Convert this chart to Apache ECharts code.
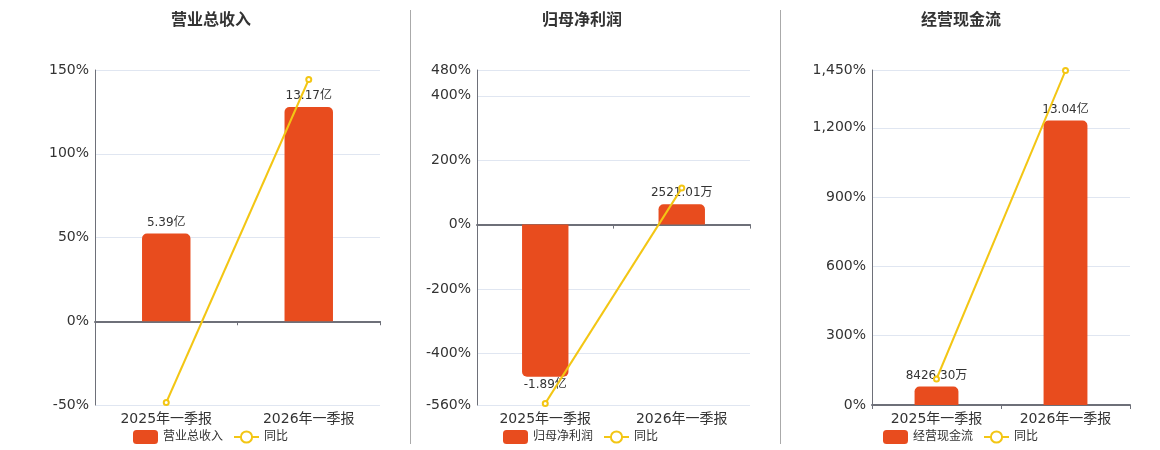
<!DOCTYPE html>
<html>
<head>
<meta charset="utf-8">
<script src="https://cdn.jsdelivr.net/npm/echarts@6/dist/echarts.min.js"></script>
<style>
html,body{margin:0;padding:0;background:#fff;}
#main{width:1160px;height:450px;}
</style>
</head>
<body>
<div id="main"></div>
<script>
// ---- data ----
const categories = ['2025年一季报', '2026年一季报'];
const titles = ['营业总收入', '归母净利润', '经营现金流'];
// bar values in 亿元
const revenue = [5.39, 13.17];
const netProfit = [-1.89, 0.252101];
const cashFlow = [0.842630, 13.04];
// YoY growth, %
const revenueYoY = [-48.5, 144.34];
const netProfitYoY = [-555, 113.3];
const cashFlowYoY = [112.5, 1447.6];
const yoyName = '同比';

const barSets = [revenue, netProfit, cashFlow];
const yoySets = [revenueYoY, netProfitYoY, cashFlowYoY];

// ---- layout / style ----
const FONT = '"DejaVu Sans", "Noto Sans CJK SC", sans-serif';
const grids = [
  {left: 95, right: 780, top: 70, bottom: 45},
  {left: 477, right: 410, top: 70, bottom: 45},
  {left: 872, right: 30, top: 70, bottom: 45}
];
const pctRanges = [[-50, 150], [-560, 480], [0, 1450]];
const barRanges = [[-5.15, 15.45], [-2.24, 1.92], [0, 15.35]];
const titleLeft = [166, 537, 916];
const legendLeft = [128, 498, 878];
const BAR_COLOR = '#E84C1E';
const LINE_COLOR = '#F3C614';

function fmtAmount(v) {
  if (Math.abs(v) >= 1) return v.toFixed(2) + '亿';
  return (v * 10000).toFixed(2) + '万';
}

const option = {
  animation: false,
  textStyle: {fontFamily: FONT},
  title: [], grid: [], xAxis: [], yAxis: [], series: [], legend: [],
  graphic: [
    {type: 'line', shape: {x1: 410.5, y1: 10, x2: 410.5, y2: 444}, style: {stroke: '#aaaaaa', lineWidth: 1}},
    {type: 'line', shape: {x1: 780.5, y1: 10, x2: 780.5, y2: 444}, style: {stroke: '#aaaaaa', lineWidth: 1}}
  ]
};

for (let i = 0; i < 3; i++) {
  option.title.push({
    text: titles[i], left: titleLeft[i], top: 8,
    textStyle: {fontSize: 16, fontWeight: 'bold', color: '#333', fontFamily: FONT}
  });
  option.grid.push(grids[i]);
  option.xAxis.push({
    type: 'category', gridIndex: i, data: categories,
    axisLine: {onZero: true, lineStyle: {color: '#6e7079', width: 2}},
    axisTick: {show: true, length: 4, lineStyle: {color: '#6e7079'}},
    axisLabel: {fontSize: 14, color: '#333', margin: 7, fontFamily: FONT},
    splitLine: {show: false}
  });
  option.yAxis.push({
    type: 'value', gridIndex: i, min: pctRanges[i][0], max: pctRanges[i][1],
    axisLine: {show: true, lineStyle: {color: '#6e7079', width: 1}},
    axisTick: {show: false},
    axisLabel: {fontSize: 14, color: '#333', margin: 6, fontFamily: FONT,
      formatter: v => v.toLocaleString('en-US') + '%'},
    splitLine: {show: true, lineStyle: {color: '#e0e6f1'}}
  });
  option.yAxis.push({
    type: 'value', gridIndex: i, min: barRanges[i][0], max: barRanges[i][1],
    show: false, splitLine: {show: false}
  });
  option.series.push({
    name: titles[i], type: 'bar', xAxisIndex: i, yAxisIndex: 2 * i + 1,
    data: barSets[i].map(v => ({
      value: v,
      itemStyle: {borderRadius: v < 0 ? [0, 0, 5, 5] : [5, 5, 0, 0]},
      label: {position: v < 0 ? 'bottom' : 'top', distance: v < 0 ? 2 : 5}
    })),
    barWidth: '34%',
    itemStyle: {color: BAR_COLOR},
    label: {show: true, fontSize: 12, color: '#333', fontFamily: FONT,
      formatter: p => fmtAmount(p.value)}
  });
  option.series.push({
    name: yoyName, type: 'line', xAxisIndex: i, yAxisIndex: 2 * i,
    data: yoySets[i], symbol: 'emptyCircle', symbolSize: 5,
    lineStyle: {color: LINE_COLOR, width: 2},
    itemStyle: {color: LINE_COLOR, borderColor: LINE_COLOR, borderWidth: 2},
    z: 5
  });
  option.legend.push({
    left: legendLeft[i], top: 425, itemWidth: 25, itemHeight: 14, itemGap: 10,
    textStyle: {fontSize: 12, color: '#333', fontFamily: FONT},
    data: [titles[i], yoyName].map(n => ({name: n})),
  });
}

const chart = echarts.init(document.getElementById('main'), null, {renderer: 'canvas'});
chart.setOption(option);
</script>
</body>
</html>
